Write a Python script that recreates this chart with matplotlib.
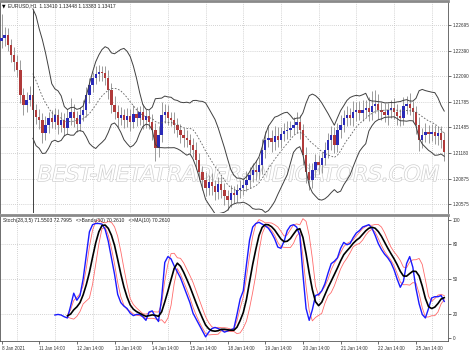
import numpy as np
import pandas as pd
import matplotlib
matplotlib.use("Agg")
import matplotlib.pyplot as plt
from matplotlib import patheffects

plt.rcParams["font.family"] = ["Liberation Sans", "DejaVu Sans"]

# %% data (2-hour steps, 8 Jan 14:00 -> 25 Jan)
first_open = 1.22500
closes = [
    1.22541, 1.22577, 1.22458, 1.22340, 1.22257, 1.22162, 1.21866, 1.21747, 1.21807, 1.21866,
    1.21688, 1.21605, 1.21570, 1.21416, 1.21511, 1.21594, 1.21546, 1.21629, 1.21511, 1.21570,
    1.21475, 1.21594, 1.21665, 1.21594, 1.21522, 1.21629, 1.21688, 1.21866, 1.21984, 1.22067,
    1.22115, 1.22138, 1.22126, 1.22067, 1.21925, 1.21747, 1.21665, 1.21594, 1.21629, 1.21570,
    1.21617, 1.21546, 1.21641, 1.21594, 1.21665, 1.21570, 1.21617, 1.21546, 1.21451, 1.21238,
    1.21392, 1.21629, 1.21665, 1.21594, 1.21570, 1.21511, 1.21451, 1.21392, 1.21357, 1.21333,
    1.21274, 1.21214, 1.21096, 1.20954, 1.20859, 1.20764, 1.20836, 1.20788, 1.20717, 1.20812,
    1.20741, 1.20670, 1.20622, 1.20705, 1.20682, 1.20741, 1.20764, 1.20800, 1.20859, 1.20919,
    1.20978, 1.20954, 1.21037, 1.21214, 1.21333, 1.21357, 1.21309, 1.21380, 1.21333, 1.21404,
    1.21440, 1.21451, 1.21475, 1.21511, 1.21546, 1.21451, 1.21155, 1.20954, 1.20859, 1.20978,
    1.21072, 1.21037, 1.21120, 1.21214, 1.21333, 1.21392, 1.21274, 1.21451, 1.21511, 1.21594,
    1.21629, 1.21594, 1.21665, 1.21688, 1.21653, 1.21688, 1.21712, 1.21665, 1.21736, 1.21759,
    1.21688, 1.21665, 1.21629, 1.21688, 1.21712, 1.21665, 1.21617, 1.21594, 1.21736, 1.21759,
    1.21712, 1.21665, 1.21511, 1.21333, 1.21392, 1.21428, 1.21404, 1.21428, 1.21380, 1.21416,
    1.21333, 1.21191,
]
# wicks in pips above / below the body
upper_pips = [
    28, 9, 8, 7, 9, 8, 12, 8, 9, 11,
    8, 7, 9, 8, 11, 7, 9, 8, 7, 9,
    8, 11, 16, 9, 8, 9, 12, 9, 8, 7,
    9, 8, 7, 8, 9, 8, 11, 8, 9, 7,
    9, 8, 11, 8, 7, 9, 8, 7, 9, 8,
    11, 15, 9, 8, 7, 9, 8, 7, 8, 9,
    7, 8, 9, 8, 7, 9, 8, 11, 7, 8,
    9, 8, 7, 9, 8, 7, 9, 8, 11, 9,
    8, 12, 9, 13, 11, 15, 9, 12, 11, 8,
    9, 11, 8, 9, 12, 8, 7, 9, 11, 8,
    9, 8, 7, 9, 8, 11, 9, 8, 12, 9,
    11, 8, 13, 9, 11, 12, 9, 13, 18, 17,
    12, 9, 11, 8, 9, 12, 9, 8, 11, 9,
    13, 8, 7, 9, 8, 11, 8, 9, 8, 7,
    8, 9,
]
lower_pips = [
    8, 9, 7, 8, 11, 8, 9, 12, 8, 7,
    9, 8, 11, 12, 8, 9, 7, 8, 11, 8,
    9, 7, 8, 11, 9, 8, 7, 8, 9, 8,
    7, 8, 9, 8, 11, 9, 8, 11, 8, 9,
    8, 11, 7, 9, 8, 11, 9, 8, 12, 16,
    11, 8, 9, 8, 7, 9, 8, 9, 11, 8,
    9, 8, 11, 9, 12, 9, 8, 11, 9, 8,
    9, 11, 12, 8, 9, 8, 9, 8, 7, 9,
    8, 9, 8, 11, 9, 8, 12, 9, 8, 9,
    8, 9, 8, 7, 9, 11, 12, 13, 12, 9,
    8, 11, 9, 8, 9, 12, 9, 8, 9, 8,
    9, 8, 9, 11, 8, 9, 8, 11, 9, 8,
    11, 9, 8, 12, 9, 8, 11, 9, 8, 9,
    8, 12, 11, 13, 9, 8, 11, 8, 9, 11,
    9, 11,
]

stoch_first_bar = 17
stoch_k = [
    19.5, 20, 19.5,
    18, 17, 27, 38, 32, 36, 50, 70, 90, 96,
    97, 97, 96.5, 92, 82, 68, 54, 37, 30, 27,
    25, 21, 19, 20, 20, 18, 15, 22, 23, 18,
    14, 34, 64, 69, 67, 61, 56, 51, 44, 37,
    30, 21, 16, 11, 6, 1, 5, 8, 9, 8,
    7, 5, 6, 7, 8, 20, 33, 40, 62, 83,
    94, 97, 98, 96.5, 95, 93, 89, 84, 77, 76,
    82, 91, 95, 96, 94, 87, 54, 25, 15, 24,
    36, 37, 40, 46, 55, 63, 65, 68, 76, 81,
    79, 80, 85, 89, 91, 94, 95, 96, 93, 87,
    80, 75, 71, 68, 64, 58, 50, 43, 48, 63,
    69, 60, 42, 29, 20, 17, 25, 34, 35, 35,
    36, 31,
]

date_labels = ["8 Jan 2021", "11 Jan 14:00", "12 Jan 14:00", "13 Jan 14:00",
               "14 Jan 14:00", "15 Jan 14:00", "18 Jan 14:00", "19 Jan 14:00",
               "20 Jan 14:00", "21 Jan 14:00", "22 Jan 14:00", "25 Jan 14:00"]
price_ticks = [1.22695, 1.22390, 1.22090, 1.21785, 1.21485, 1.21180, 1.20875, 1.20575]
stoch_ticks = [100, 80, 50, 20, 0]

# %% derived series
closes = np.array(closes)
opens = np.concatenate([[first_open], closes[:-1]])
highs = np.maximum(opens, closes) + np.array(upper_pips) * 0.0001
lows = np.minimum(opens, closes) - np.array(lower_pips) * 0.0001
bars = np.arange(len(closes))

s = pd.Series(closes)
mid = s.rolling(11).mean()
dev = s.rolling(11).std(ddof=0)
bb_up = mid + 2.4 * dev
bb_lo = mid - 2.4 * dev

st = pd.Series(stoch_k, index=np.arange(stoch_first_bar, stoch_first_bar + len(stoch_k)))
st_ma = st.rolling(5).mean()
st_sd = st.rolling(5).std(ddof=0)

# %% figure
W, H = 474, 355
fig = plt.figure(figsize=(W / 100, H / 100), dpi=100)
fig.patch.set_facecolor("white")
ax1 = fig.add_axes([0, 1 - 213 / H, 448 / W, 212 / H])
ax2 = fig.add_axes([0, 1 - 341 / H, 448 / W, 126 / H])

xmin, xmax = -0.48, 142.2
grid_bars = np.arange(5, 142, 12)
grid_kw = dict(color="#c4c4c4", lw=0.6, ls=(0, (1, 1.5)), zorder=0)

# price panel
y_lo, y_hi = 1.20468, 1.22979
up = closes >= opens
ax1.vlines(bars, lows, highs, color="#9a9a9a", lw=0.7, zorder=3)
ax1.bar(bars[up], (closes - opens)[up], bottom=opens[up], width=0.75,
        color="#2a2ab8", lw=0, zorder=4)
ax1.bar(bars[~up], (opens - closes)[~up], bottom=closes[~up], width=0.75,
        color="#b03a3a", lw=0, zorder=4)
ax1.plot(bars, bb_up, color="#404040", lw=0.7, zorder=5)
ax1.plot(bars, bb_lo, color="#404040", lw=0.7, zorder=5)
ax1.plot(bars, mid, color="#606060", lw=0.6, ls=(0, (2, 2)), zorder=5)
first = mid.first_valid_index()
ax1.vlines(first, y_lo, bb_up[first], color="#404040", lw=0.7, zorder=5)

ax1.set_xlim(xmin, xmax)
ax1.set_ylim(y_lo, y_hi)
ax1.set_yticks(price_ticks)
ax1.set_yticklabels([f"{p:.5f}" for p in price_ticks])
ax1.yaxis.tick_right()
ax1.tick_params(axis="y", labelsize=3.3, length=2, width=0.5, pad=1.5, colors="#333333")
ax1.set_xticks([])
ax1.grid(axis="y", **grid_kw)
for g in grid_bars:
    ax1.axvline(g, **grid_kw)

ax1.text(238 / W, 1 - 175 / H, "BEST-METATRADER-INDICATORS.COM", transform=fig.transFigure,
         ha="center", va="center", fontsize=15.5, style="italic", family="DejaVu Sans",
         color="white", zorder=2,
         path_effects=[patheffects.withStroke(linewidth=1.0, foreground="#cfcfcf")])

# stochastic panel
ax2.plot(st_ma.index, st_ma + st_sd, color="#ff6b6b", lw=0.6, zorder=3)
ax2.plot(st_ma.index, st_ma - st_sd, color="#ff6b6b", lw=0.6, zorder=3)
ax2.plot(st.index, st.values, color="#1a1aff", lw=1.0, zorder=4)
ax2.plot(st_ma.index, st_ma.values, color="black", lw=1.2, zorder=5)

ax2.set_xlim(xmin, xmax)
ax2.set_ylim(-2.5, 104.2)
ax2.set_yticks(stoch_ticks)
ax2.yaxis.tick_right()
ax2.tick_params(axis="y", labelsize=3.3, length=2, width=0.5, pad=1.5, colors="#333333")
ax2.set_xticks(np.arange(0, 12 * len(date_labels), 12))
ax2.set_xticklabels(date_labels)
ax2.tick_params(axis="x", labelsize=3.3, length=2, width=0.5, pad=1.5, colors="#333333")
for lbl in ax2.get_xticklabels():
    lbl.set_ha("left")
for v in [20, 50, 80]:
    ax2.axhline(v, **grid_kw)
for g in grid_bars:
    ax2.axvline(g, **grid_kw)

for ax in (ax1, ax2):
    for side in ("left", "right", "bottom", "top"):
        ax.spines[side].set_color("#555555")
        ax.spines[side].set_linewidth(0.6)
ax1.spines["top"].set_color("#8a8a8a")
ax1.spines["top"].set_linewidth(2)
ax1.spines["bottom"].set_visible(False)
ax2.spines["top"].set_color("#8a8a8a")
ax2.spines["top"].set_linewidth(2)

# header texts
fig.text(2 / W, 1 - 6 / H, "▼", fontsize=3.3, family="DejaVu Sans", va="center")
fig.text(8 / W, 1 - 6 / H, "EURUSD,H1  1.13410 1.13448 1.13383 1.13417",
         fontsize=3.6, va="center", color="#222222")
fig.text(3 / W, 1 - 221 / H,
         "Stoch(28,3,5) 71.5503 72.7995   <>Bands(10) 70.2610   <>MA(10) 70.2610",
         fontsize=3.6, va="center", color="#222222", zorder=10)

fig.savefig("out.png", dpi=100)
